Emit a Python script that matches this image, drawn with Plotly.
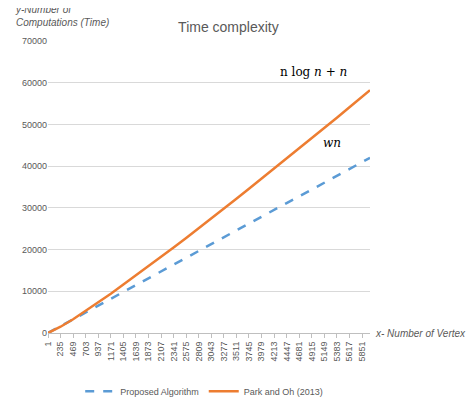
import plotly.graph_objects as go

x_vals = [1, 235, 469, 703, 937, 1171, 1405, 1639, 1873, 2107, 2341, 2575, 2809, 3043,
          3277, 3511, 3745, 3979, 4213, 4447, 4681, 4915, 5149, 5383, 5617, 5851, 6000]
park_oh = [0, 1500, 3300, 5300, 7300, 9400, 11600, 13800, 15900, 18200, 20500, 22800, 25100,
           27500, 29800, 32200, 34600, 37000, 39400, 41800, 44300, 46700, 49200, 51600, 54100,
           56600, 58200]
proposed = [0, 1650, 3300, 4900, 6550, 8200, 9850, 11500, 13100, 14750, 16400, 18000, 19650,
            21300, 22950, 24600, 26200, 27850, 29500, 31150, 32750, 34400, 36050, 37700, 39300,
            40950, 42000]
tick_vals = x_vals[:-1]
y_ticks = [0, 10000, 20000, 30000, 40000, 50000, 60000, 70000]

fig = go.Figure()
fig.add_trace(go.Scatter(x=x_vals, y=proposed, mode="lines", name="Proposed Algorithm",
                         line=dict(color="#5B9BD5", width=2.5, dash="dash")))
fig.add_trace(go.Scatter(x=x_vals, y=park_oh, mode="lines", name="Park and Oh (2013)",
                         line=dict(color="#ED7D31", width=2.5)))

font = "Liberation Sans, Arial"
fig.update_layout(
    width=474, height=410, paper_bgcolor="white", plot_bgcolor="white",
    margin=dict(l=40, r=112, t=33, b=82),
    font=dict(family=font, size=9, color="#595959"),
    title=dict(text="Time complexity", x=0.465, xanchor="center", y=0.965,
               font=dict(size=14, color="#595959")),
    showlegend=True,
    legend=dict(orientation="h", x=0.1, y=-0.15, xanchor="left", yanchor="top",
                font=dict(size=9, color="#595959")),
    xaxis=dict(range=[1, 6000], tickmode="array", tickvals=tick_vals,
               ticktext=[str(v) for v in tick_vals], tickangle=-90, showgrid=False,
               showline=True, linecolor="#BFBFBF", ticks="outside", ticklen=4,
               tickcolor="#BFBFBF", tickfont=dict(size=9)),
    yaxis=dict(range=[0, 70000], tickvals=y_ticks, tickformat="d", showgrid=True,
               gridcolor="#D9D9D9", zeroline=False, tickfont=dict(size=9)),
    annotations=[
        dict(text="<i>y-Number of<br>Computations (Time)</i>", xref="paper", yref="paper",
             x=-0.11, y=1.135, xanchor="left", yanchor="top", showarrow=False, align="left",
             font=dict(size=10, color="#595959")),
        dict(text="<i>x- Number of Vertex</i>", xref="paper", yref="paper", x=1.01, y=0,
             xanchor="left", yanchor="middle", showarrow=False, font=dict(size=10, color="#595959")),
        dict(text="n log <i>n</i> + <i>n</i>", x=4950, y=62500, showarrow=False,
             font=dict(family="DejaVu Serif", size=12, color="black")),
        dict(text="<i>wn</i>", x=5300, y=45500, showarrow=False,
             font=dict(family="DejaVu Serif", size=12, color="black")),
    ],
)
fig.write_html("out.html")
